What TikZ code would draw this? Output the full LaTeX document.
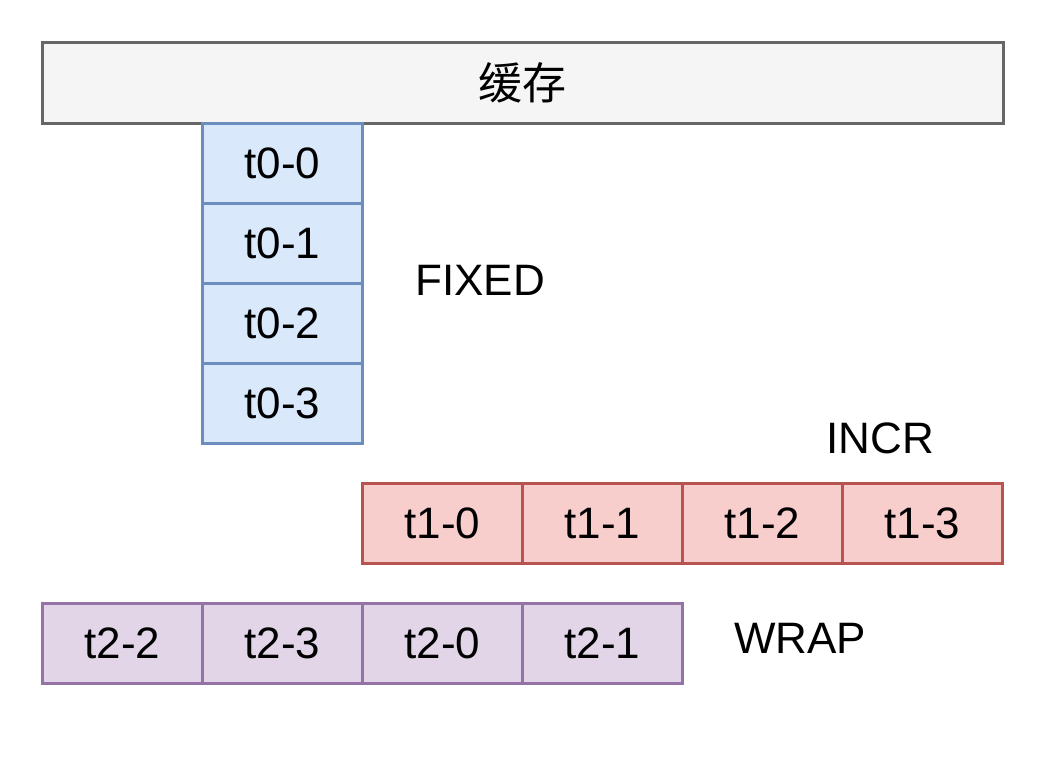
\documentclass[tikz,border=0pt]{standalone}
\usepackage{fontspec}
\setmainfont{Liberation Sans}
\newfontfamily\cjk{Noto Sans CJK SC}
\usetikzlibrary{positioning}
\definecolor{blueFill}{HTML}{DAE8FC}
\definecolor{blueLine}{HTML}{6C8EBF}
\definecolor{redFill}{HTML}{F8CECC}
\definecolor{redLine}{HTML}{B85450}
\definecolor{purpleFill}{HTML}{E1D5E7}
\definecolor{purpleLine}{HTML}{9673A6}
\definecolor{cacheFill}{HTML}{F5F5F5}
\definecolor{cacheLine}{HTML}{666666}
\tikzset{
 cell/.style={draw,line width=2.2pt,minimum width=120pt,minimum height=60pt,
   inner sep=0pt,font=\fontsize{33}{40}\selectfont,anchor=north west},
 fixcell/.style={cell,fill=blueFill,draw=blueLine},
 inccell/.style={cell,fill=redFill,draw=redLine},
 wrapcell/.style={cell,fill=purpleFill,draw=purpleLine},
 tag/.style={font=\fontsize{33}{40}\selectfont,inner sep=0pt}
}
\begin{document}
\begin{tikzpicture}[x=0.75pt,y=-0.75pt]
\useasboundingbox (0,0) rectangle (1044,764);
 \node[draw=cacheLine,fill=cacheFill,line width=2.2pt,minimum width=720.75pt,
   minimum height=60.75pt,anchor=north west,inner sep=0pt,
   font=\cjk\fontsize{33}{40}\selectfont] (cache) at (41,41) {缓存};
% FIXED column
 \foreach \i in {0,...,3}
  \node[fixcell] (t0-\i) at (201,122+80*\i) {t0-\i};
 \node[tag] (fixed) at (480,280) {FIXED};
% INCR row
 \foreach \i in {0,...,3}
  \node[inccell] (t1-\i) at (361+160*\i,482) {t1-\i};
 \node[tag] (incr) at (880,438) {INCR};
% WRAP row
 \foreach \n [count=\i from 0] in {2,3,0,1}
  \node[wrapcell] (t2-\n) at (41+160*\i,602) {t2-\n};
 \node[tag] (wrap) at (800,638) {WRAP};
\end{tikzpicture}
\end{document}
